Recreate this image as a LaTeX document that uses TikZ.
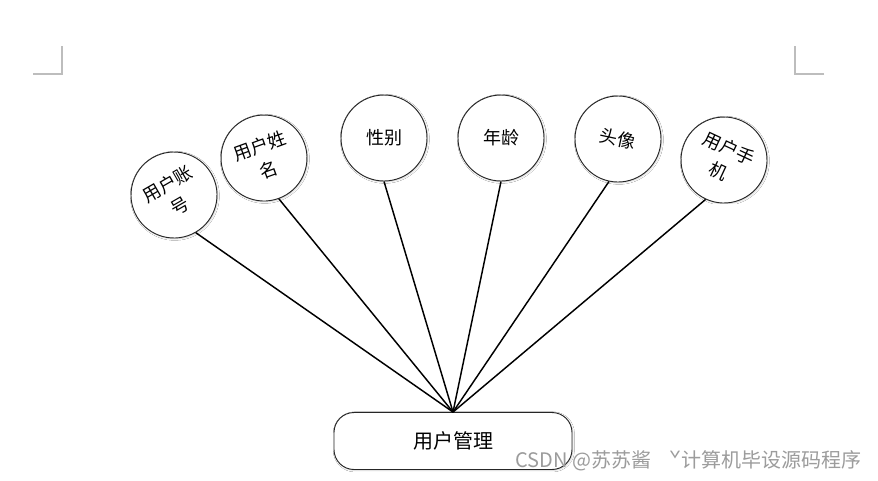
\documentclass[tikz,border=0pt]{standalone}
\usepackage{fontspec}
\newfontfamily\cjk{Noto Sans CJK SC}
\usepackage{xcolor}
\definecolor{CropGray}{HTML}{BDBDBD}
\definecolor{WaterGray}{HTML}{9C9C9C}
\usetikzlibrary{shadows.blur}

\begin{document}
\begin{tikzpicture}[
  x=0.75pt,
  y=-0.75pt,
  attr/.style={
    circle,
    draw=black!85,
    line width=0.7pt,
    fill=white,
    minimum size=64.5pt,
    inner sep=0pt,
    align=center,
    font=\cjk\fontsize{13.5}{19}\selectfont,
    rotate=#1,
    blur shadow={shadow blur steps=4,
                 shadow xshift=0.6pt,
                 shadow yshift=-0.6pt,
                 shadow opacity=20,
                 shadow blur radius=1.2pt}},
  attr/.default=0,
  entity/.style={
    rectangle,
    draw=black!85,
    line width=0.7pt,
    fill=white,
    rounded corners=15pt,
    minimum width=178.5pt,
    minimum height=42.75pt,
    font=\cjk\fontsize{15}{18}\selectfont,
    blur shadow={shadow blur steps=4,
                 shadow xshift=0.6pt,
                 shadow yshift=-0.6pt,
                 shadow opacity=20,
                 shadow blur radius=1.2pt}},
  link/.style={
    draw=black,
    line width=1.1pt},
  cropmark/.style={
    draw=CropGray,
    line width=0.8pt},
]

\useasboundingbox[fill=white] (0,0) rectangle (878,480);

% page corner marks
\draw[cropmark] (33,74) -- (62,74) -- (62,46);
\draw[cropmark] (824,74) -- (795,74) -- (795,46);

% attributes
\node[attr=30]  (account) at (174,195) {用户账\\号};
\node[attr=20]  (uname)   at (264,158) {用户姓\\名};
\node[attr]     (gender)  at (384,138) {性别};
\node[attr]     (age)     at (501,138) {年龄};
\node[attr=-12] (avatar)  at (618,139) {头像};
\node[attr=-25] (phone)   at (724,160) {用户手\\机};

% entity
\node[entity] (usermgr) at (453,441) {用户管理};

\foreach \a in {account, uname, gender, age, avatar, phone}
  \draw[link] (\a.south) -- (usermgr.north);

\node[anchor=east, text=WaterGray, inner sep=0pt,
      font=\cjk\fontsize{15}{17}\selectfont] (watermark)
  at (862,461) {CSDN @苏苏酱\hspace{14pt}ˇ计算机毕设源码程序};

\end{tikzpicture}
\end{document}
